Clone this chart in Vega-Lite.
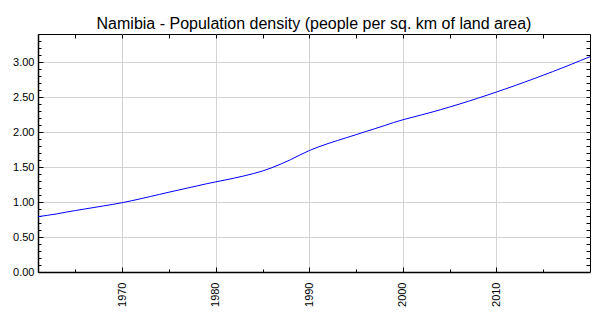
{
  "$schema": "https://vega.github.io/schema/vega-lite/v6.json",
  "width": 552,
  "height": 238,
  "autosize": {"type": "none"},
  "padding": {"left": 38, "top": 34, "right": 10, "bottom": 43},
  "background": "white",
  "title": {
    "text": "Namibia - Population density (people per sq. km of land area)",
    "font": "Liberation Sans",
    "fontSize": 16,
    "fontWeight": "normal",
    "color": "#000000",
    "anchor": "middle",
    "baseline": "bottom",
    "offset": -14
  },
  "config": {
    "view": {"stroke": "#000000", "strokeWidth": 1},
    "axis": {
      "labelFont": "Liberation Sans",
      "labelFontSize": 11,
      "labelColor": "#000000",
      "domainColor": "#000000",
      "tickColor": "#000000",
      "gridColor": "#d3d3d3",
      "gridOpacity": 1,
      "title": null
    }
  },
  "data": {
    "values": [
      {"year": 1961, "value": 0.79}, {"year": 1962, "value": 0.81}, {"year": 1963, "value": 0.83},
      {"year": 1964, "value": 0.855}, {"year": 1965, "value": 0.878}, {"year": 1966, "value": 0.90},
      {"year": 1967, "value": 0.922}, {"year": 1968, "value": 0.944}, {"year": 1969, "value": 0.966},
      {"year": 1970, "value": 0.99}, {"year": 1971, "value": 1.018}, {"year": 1972, "value": 1.047},
      {"year": 1973, "value": 1.078}, {"year": 1974, "value": 1.109}, {"year": 1975, "value": 1.14},
      {"year": 1976, "value": 1.17}, {"year": 1977, "value": 1.20}, {"year": 1978, "value": 1.23},
      {"year": 1979, "value": 1.26}, {"year": 1980, "value": 1.288}, {"year": 1981, "value": 1.314},
      {"year": 1982, "value": 1.342}, {"year": 1983, "value": 1.372}, {"year": 1984, "value": 1.405},
      {"year": 1985, "value": 1.443}, {"year": 1986, "value": 1.49}, {"year": 1987, "value": 1.545},
      {"year": 1988, "value": 1.605}, {"year": 1989, "value": 1.672}, {"year": 1990, "value": 1.735},
      {"year": 1991, "value": 1.788}, {"year": 1992, "value": 1.835}, {"year": 1993, "value": 1.878},
      {"year": 1994, "value": 1.92}, {"year": 1995, "value": 1.962}, {"year": 1996, "value": 2.005},
      {"year": 1997, "value": 2.047}, {"year": 1998, "value": 2.09}, {"year": 1999, "value": 2.135},
      {"year": 2000, "value": 2.175}, {"year": 2001, "value": 2.21}, {"year": 2002, "value": 2.245},
      {"year": 2003, "value": 2.28}, {"year": 2004, "value": 2.318}, {"year": 2005, "value": 2.357},
      {"year": 2006, "value": 2.397}, {"year": 2007, "value": 2.439}, {"year": 2008, "value": 2.482},
      {"year": 2009, "value": 2.526}, {"year": 2010, "value": 2.571}, {"year": 2011, "value": 2.617},
      {"year": 2012, "value": 2.664}, {"year": 2013, "value": 2.712}, {"year": 2014, "value": 2.761},
      {"year": 2015, "value": 2.811}, {"year": 2016, "value": 2.862}, {"year": 2017, "value": 2.914},
      {"year": 2018, "value": 2.967}, {"year": 2019, "value": 3.021}, {"year": 2020, "value": 3.076}
    ]
  },
  "layer": [
    {
      "mark": {"type": "line", "color": "#0000ff", "strokeWidth": 1, "opacity": 0},
      "encoding": {
        "x": {"field": "year", "type": "quantitative", "scale": {"domain": [1961, 2020], "nice": false, "zero": false},
          "axis": {"orient": "top", "values": [1965, 1970, 1975, 1980, 1985, 1990, 1995, 2000, 2005, 2010, 2015], "labels": false, "grid": false, "domain": false, "tickSize": -4}},
        "y": {"field": "value", "type": "quantitative", "scale": {"domain": [0, 3.4], "nice": false},
          "axis": {"orient": "right", "values": [0.1, 0.2, 0.3, 0.4, 0.5, 0.6, 0.7, 0.8, 0.9, 1.0, 1.1, 1.2, 1.3, 1.4, 1.5, 1.6, 1.7, 1.8, 1.9, 2.0, 2.1, 2.2, 2.3, 2.4, 2.5, 2.6, 2.7, 2.8, 2.9, 3.0, 3.1, 3.2, 3.3], "labels": false, "grid": false, "domain": false, "tickSize": -4}}
      }
    },
    {
      "mark": {"type": "line", "color": "#0000ff", "strokeWidth": 1, "opacity": 0},
      "encoding": {
        "x": {"field": "year", "type": "quantitative",
          "axis": {"orient": "bottom", "values": [1965, 1975, 1985, 1995, 2005, 2015], "labels": false, "grid": false, "domain": false, "tickSize": -3}},
        "y": {"field": "value", "type": "quantitative",
          "axis": {"orient": "left", "values": [0.1, 0.2, 0.3, 0.4, 0.6, 0.7, 0.8, 0.9, 1.1, 1.2, 1.3, 1.4, 1.6, 1.7, 1.8, 1.9, 2.1, 2.2, 2.3, 2.4, 2.6, 2.7, 2.8, 2.9, 3.1, 3.2, 3.3], "labels": false, "grid": false, "domain": false, "tickSize": -3}}
      }
    },
    {
      "mark": {"type": "line", "color": "#0000ff", "strokeWidth": 1},
      "encoding": {
        "x": {"field": "year", "type": "quantitative",
          "axis": {"orient": "bottom", "values": [1970, 1980, 1990, 2000, 2010], "format": "d", "labelAngle": -90, "labelPadding": 15, "grid": true, "tickSize": -5, "domainWidth": 1.5}},
        "y": {"field": "value", "type": "quantitative",
          "axis": {"orient": "left", "values": [0, 0.5, 1, 1.5, 2, 2.5, 3], "format": ".2f", "labelPadding": 9, "grid": true, "tickSize": -5, "domainWidth": 1.5}}
      }
    }
  ],
  "resolve": {"axis": {"x": "independent", "y": "independent"}}
}
